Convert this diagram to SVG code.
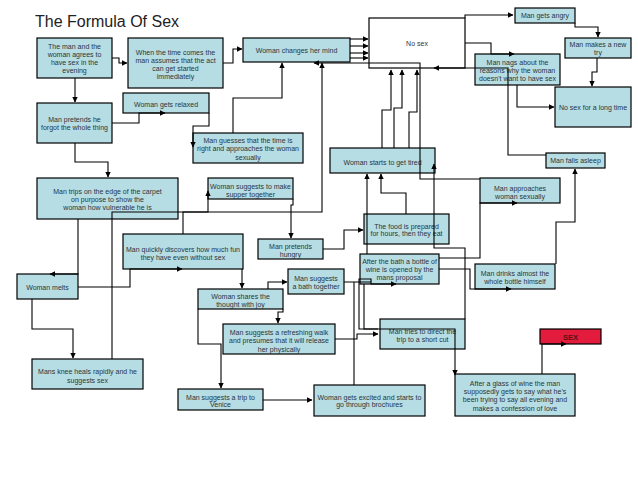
<svg xmlns="http://www.w3.org/2000/svg" width="638" height="479" viewBox="0 0 638 479">
<defs>
<marker id="ah" markerUnits="userSpaceOnUse" markerWidth="7" markerHeight="7" refX="5" refY="3" orient="auto">
<path d="M0,0.3 L5.5,3 L0,5.7 z" fill="#000"/>
</marker>
<style>
.b{fill:#B6DDE3;stroke:#000;stroke-width:1.2}
.w{fill:#fff;stroke:#000;stroke-width:1.2}
.r{fill:#E31B3C;stroke:#000;stroke-width:1.2}
text{font-family:"Liberation Sans",Arial,sans-serif;font-size:7px;fill:#2a3540;text-anchor:middle}
.t{font-size:16px;fill:#222;text-anchor:start}
.s{font-weight:bold;fill:#5a1010;font-size:7.5px}
#connectors path{fill:none;stroke:#000;stroke-width:1.1}
#connectors path.a{marker-end:url(#ah)}
</style>
</defs>
<rect width="638" height="479" fill="#fff"/>
<text class="t" x="35" y="27">The Formula Of Sex</text>

<g id="n1"><rect class="b" x="37" y="38" width="75" height="40"/><text x="74.5" y="48.5">The man and the</text><text x="74.5" y="56.5">woman agrees to</text><text x="74.5" y="64.5">have sex in the</text><text x="74.5" y="72.5">evening</text></g>
<g id="n2"><rect class="b" x="128" y="38" width="95" height="50"/><text x="175.5" y="54.5">When the time comes the</text><text x="175.5" y="62.5">man assumes that the act</text><text x="175.5" y="70.5">can get started</text><text x="175.5" y="78.5">immediately</text></g>
<g id="n3"><rect class="b" x="243" y="38" width="107" height="24"/><text x="296.5" y="53">Woman changes her mind</text></g>
<g id="n4"><rect class="w" x="369" y="18" width="96" height="50"/><text x="417" y="45.5">No sex</text></g>
<g id="n5"><rect class="b" x="515" y="8" width="60" height="15"/><text x="545" y="18">Man gets angry</text></g>
<g id="n6"><rect class="b" x="565" y="38" width="66" height="20"/><text x="598" y="46.5">Man makes a new</text><text x="598" y="54.5">try</text></g>
<g id="n7"><rect class="b" x="475" y="54" width="85" height="31"/><text x="517.5" y="64.5">Man nags about the</text><text x="517.5" y="72.5">reasons why the woman</text><text x="517.5" y="80.5">doesn't want to have sex</text></g>
<g id="n8"><rect class="b" x="555" y="87" width="76" height="40"/><text x="593" y="110">No sex for a long time</text></g>
<g id="n9"><rect class="b" x="123" y="93" width="86" height="20"/><text x="166" y="106.5">Woman gets relaxed</text></g>
<g id="n10"><rect class="b" x="37" y="103" width="75" height="40"/><text x="74.5" y="121.5">Man pretends he</text><text x="74.5" y="129.5">forgot the whole thing</text></g>
<g id="n11"><rect class="b" x="193" y="133" width="110" height="30"/><text x="248" y="142.5">Man guesses that the time is</text><text x="248" y="151">right and approaches the woman</text><text x="248" y="159.5">sexually</text></g>
<g id="n12"><rect class="b" x="330" y="148" width="105" height="25"/><text x="382.5" y="164.5">Woman starts to get tired</text></g>
<g id="n13"><rect class="b" x="546" y="153" width="59" height="15"/><text x="575.5" y="163">Man falls asleep</text></g>
<g id="n14"><rect class="b" x="37" y="178" width="141" height="41"/><text x="107.5" y="193.5">Man trips on the edge of the carpet</text><text x="107.5" y="201.5">on purpose to show the</text><text x="107.5" y="210">woman how vulnerable he is</text></g>
<g id="n15"><rect class="b" x="208" y="178" width="85" height="21"/><text x="250.5" y="188.5">Woman suggests to make</text><text x="250.5" y="196.5">supper together</text></g>
<g id="n16"><rect class="b" x="480" y="178" width="80" height="25"/><text x="520" y="190.5">Man approaches</text><text x="520" y="199">woman sexually</text></g>
<g id="n17"><rect class="b" x="364" y="214" width="85" height="30"/><text x="406.5" y="228.5">The food is prepared</text><text x="406.5" y="236">for hours, then they eat</text></g>
<g id="n18"><rect class="b" x="123" y="234" width="120" height="35"/><text x="183" y="251.5">Man quickly discovers how much fun</text><text x="183" y="259.5">they have even without sex</text></g>
<g id="n19"><rect class="b" x="258" y="239" width="65" height="20"/><text x="290.5" y="248.5">Man pretends</text><text x="290.5" y="256.5">hungry</text></g>
<g id="n20"><rect class="b" x="360" y="254" width="79" height="30"/><text x="399.5" y="263.5">After the bath a bottle of</text><text x="399.5" y="271.5">wine is opened by the</text><text x="399.5" y="280">mans proposal</text></g>
<g id="n21"><rect class="b" x="475" y="264" width="80" height="25"/><text x="515" y="275.5">Man drinks almost the</text><text x="515" y="284">whole bottle himself</text></g>
<g id="n22"><rect class="b" x="17" y="274" width="61" height="25"/><text x="47.5" y="289.5">Woman melts</text></g>
<g id="n23"><rect class="b" x="288" y="269" width="56" height="25"/><text x="316" y="280.5">Man suggests</text><text x="316" y="289">a bath together</text></g>
<g id="n24"><rect class="b" x="198" y="289" width="85" height="20"/><text x="240.5" y="298.5">Woman shares the</text><text x="240.5" y="306.5">thought with joy</text></g>
<g id="n25"><rect class="b" x="223" y="324" width="112" height="30"/><text x="279" y="334.5">Man suggests a refreshing walk</text><text x="279" y="343">and presumes that it will release</text><text x="279" y="351.5">her physically</text></g>
<g id="n26"><rect class="b" x="380" y="319" width="85" height="30"/><text x="422.5" y="333.5">Man tries to direct the</text><text x="422.5" y="341.5">trip to a short cut</text></g>
<g id="n27"><rect class="r" x="540" y="329" width="61" height="15"/><text class="s" x="570.5" y="339.5">SEX</text></g>
<g id="n28"><rect class="b" x="32" y="359" width="111" height="30"/><text x="87.5" y="373.5">Mans knee heals rapidly and he</text><text x="87.5" y="382.5">suggests sex</text></g>
<g id="n29"><rect class="b" x="178" y="389" width="85" height="21"/><text x="220.5" y="399.5">Man suggests a trip to</text><text x="220.5" y="407">Venice</text></g>
<g id="n30"><rect class="b" x="314" y="385" width="111" height="31"/><text x="369.5" y="399.5">Woman gets excited and starts to</text><text x="369.5" y="407">go through brochures</text></g>
<g id="n31"><rect class="b" x="455" y="374" width="120" height="42"/><text x="515" y="385.5">After a glass of wine the man</text><text x="515" y="393.5">supposedly gets to say what he's</text><text x="515" y="401.5">been trying to say all evening and</text><text x="515" y="410.5">makes a confession of love</text></g>

<g id="connectors">
<path class="a" d="M112,58 H119 V63 H127"/>
<path class="a" d="M223,63 H233 V49 H242"/>
<path class="a" d="M75,78 V102"/>
<path class="a" d="M112,123 H139 V113 H165"/>
<path class="a" d="M209,113 V126 H193 V147"/>
<path class="a" d="M233,133 V98 H282 V63"/>
<path class="a" d="M75,143 V162 H108 V177"/>
<path class="a" d="M78,219 V274 H50"/>
<path class="a" d="M78,287 H130 V269 H182"/>
<path class="a" d="M32,299 V329 H73 V358"/>
<path class="a" d="M112,359 V212 H322 V63"/>
<path class="a" d="M183,234 V212 H208 V191"/>
<path class="a" d="M293,199 V205 H291 V238"/>
<path class="a" d="M323,249 H344 V230 H363"/>
<path class="a" d="M406,214 V193 H381 V174"/>
<path class="a" d="M367,254 V174"/>
<path class="a" d="M382,148 V110 H391 V70"/>
<path class="a" d="M394,148 V108 H402 V70"/>
<path class="a" d="M409,148 V112 H417 V70"/>
<path class="a" d="M480,179 H420 V63 H314"/>
<path class="a" d="M350,39 H368"/>
<path class="a" d="M350,46 H368"/>
<path class="a" d="M350,53 H368"/>
<path class="a" d="M350,58 H368"/>
<path class="a" d="M465,18 V15 H513"/>
<path class="a" d="M465,43 H491 V54 H514"/>
<path class="a" d="M575,23 V27 H598 V37"/>
<path class="a" d="M597,58 V72 H592 V86"/>
<path class="a" d="M517,85 V107 H554"/>
<path class="a" d="M546,155 H508 V68 H434"/>
<path class="a" d="M556,264 V222 H575 V169"/>
<path class="a" d="M439,258 H480 V203 H517"/>
<path class="a" d="M439,269 H470 V289 H511"/>
<path class="a" d="M465,319 V248 H434 V164"/>
<path class="a" d="M344,282 H371 V284 H396"/>
<path d="M354,385 V282"/>
<path d="M371,282 V279 H359 V329 H378"/>
<path class="a" d="M364,284 V329 H455 V375"/>
<path class="a" d="M335,339 H357 V334 H378"/>
<path class="a" d="M242,269 V288"/>
<path class="a" d="M268,289 V282 H287"/>
<path class="a" d="M283,309 V312 H278 V323"/>
<path class="a" d="M198,309 V344 H221 V388"/>
<path class="a" d="M263,400 H312"/>
<path class="a" d="M542,374 V344 H566"/>
</g>
</svg>
